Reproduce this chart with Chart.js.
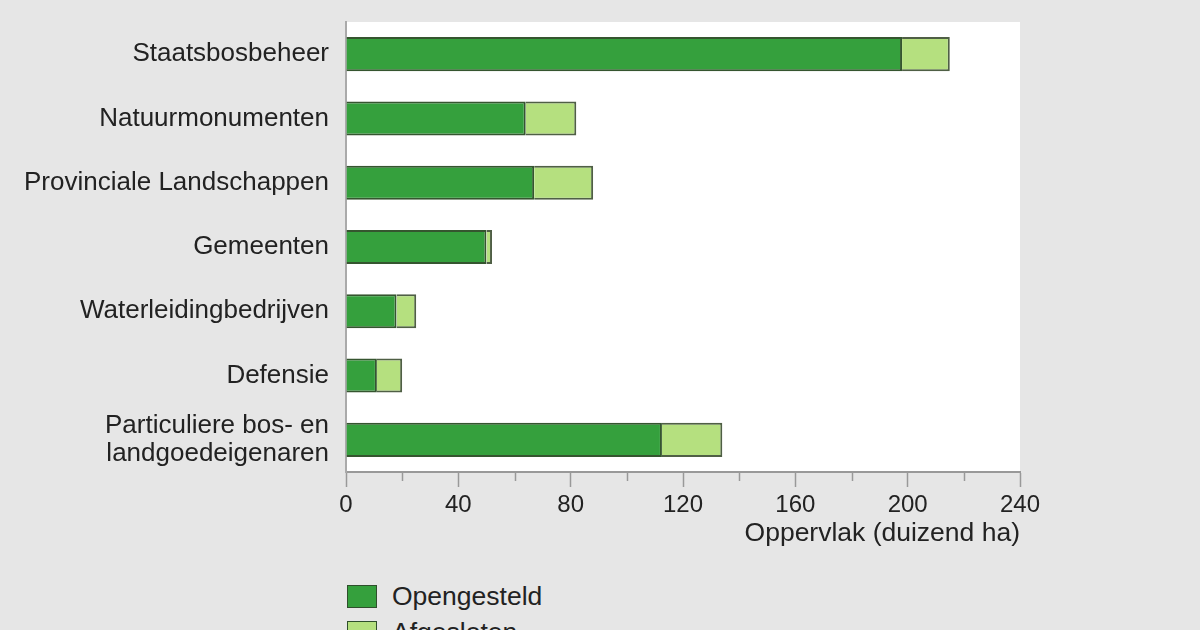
<!DOCTYPE html>
<html>
<head>
<meta charset="utf-8">
<script src="https://cdn.jsdelivr.net/npm/chart.js@4.4.0/dist/chart.umd.min.js"></script>
<style>
  body { margin: 0; background: #e6e6e6; font-family: "Liberation Sans", Arial, sans-serif; }
  #wrap { position: relative; width: 1200px; height: 630px; overflow: hidden; }
  #chart { position: absolute; left: 0; top: 0; }
  .leg { position: absolute; left: 347px; display: flex; align-items: center; font-size: 26.5px; color: #222; }
  .leg span.box { width: 28px; height: 21px; border: 1.5px solid #2f4f2c; margin-right: 15px; }
</style>
</head>
<body>
<div id="wrap">
  <canvas id="chart" width="1200" height="560"></canvas>
  <div class="leg" style="top:581px"><span class="box" style="background:#35a03d"></span>Opengesteld</div>
  <div class="leg" style="top:617px"><span class="box" style="background:#b5e07f"></span>Afgesloten</div>
</div>
<script>
const categories = [
  'Staatsbosbeheer',
  'Natuurmonumenten',
  'Provinciale Landschappen',
  'Gemeenten',
  'Waterleidingbedrijven',
  'Defensie',
  ['Particuliere bos- en', 'landgoedeigenaren']
];
const opengesteld = [198, 64, 67, 50, 18, 11, 112.5];
const afgesloten = [17, 18, 21, 2, 7, 9, 21.5];
const xTicks = [0, 40, 80, 120, 160, 200, 240];
const minorTicks = [20, 60, 100, 140, 180, 220];

const whiteArea = {
  id: 'whiteArea',
  beforeDraw(chart) {
    const { ctx, chartArea: a } = chart;
    ctx.save();
    ctx.fillStyle = '#ffffff';
    ctx.fillRect(a.left, a.top, a.right - a.left, a.bottom - a.top);
    ctx.restore();
  }
};

// shorter tick marks at the in-between values
const minorTickMarks = {
  id: 'minorTickMarks',
  afterDraw(chart) {
    const { ctx, chartArea: a } = chart;
    const x = chart.scales.x;
    ctx.save();
    ctx.strokeStyle = '#999';
    ctx.lineWidth = 1.5;
    minorTicks.forEach(v => {
      const px = Math.round(x.getPixelForValue(v)) + 0.5;
      ctx.beginPath();
      ctx.moveTo(px, a.bottom);
      ctx.lineTo(px, a.bottom + 9);
      ctx.stroke();
    });
    ctx.restore();
  }
};

const ctx = document.getElementById('chart').getContext('2d');
new Chart(ctx, {
  type: 'bar',
  data: {
    labels: categories,
    datasets: [
      { label: 'Opengesteld', data: opengesteld, backgroundColor: '#35a03d', borderColor: '#35552f', borderWidth: 2 },
      { label: 'Afgesloten', data: afgesloten, backgroundColor: '#b5e07f', borderColor: '#4f5f45', borderWidth: 2 }
    ]
  },
  options: {
    indexAxis: 'y',
    responsive: false,
    animation: false,
    barPercentage: 0.53,
    categoryPercentage: 1,
    layout: { padding: { top: 22, right: 180, left: 0, bottom: 0 } },
    plugins: { legend: { display: false }, tooltip: { enabled: false } },
    scales: {
      x: {
        stacked: true,
        min: 0, max: 240,
        afterFit: s => { s.height = 88; s.paddingLeft = 0; s.paddingRight = 0; },
        ticks: {
          stepSize: 20,
          autoSkip: false,
          maxRotation: 0,
          padding: 4,
          color: '#222',
          font: { family: '"Liberation Sans", Arial', size: 24 },
          callback: v => xTicks.includes(v) ? String(v) : ''
        },
        grid: {
          drawOnChartArea: false,
          drawTicks: true,
          tickLength: 15,
          tickWidth: 1.5,
          tickColor: c => xTicks.includes(c.tick && c.tick.value) ? '#999' : 'rgba(0,0,0,0)'
        },
        border: { display: true, color: '#999', width: 2 },
        title: {
          display: true,
          text: 'Oppervlak (duizend ha)',
          align: 'end',
          color: '#222',
          font: { family: '"Liberation Sans", Arial', size: 26.5 },
          padding: { top: 2, bottom: 10 }
        }
      },
      y: {
        stacked: true,
        afterFit: s => { s.width = 346; s.paddingTop = 0; s.paddingBottom = 0; },
        ticks: {
          padding: 17,
          color: '#222',
          font: { family: '"Liberation Sans", Arial', size: 26, lineHeight: 1.1 }
        },
        grid: { display: false, drawTicks: false },
        border: { display: true, color: '#aaa', width: 2 }
      }
    }
  },
  plugins: [whiteArea, minorTickMarks]
});
</script>
</body>
</html>
